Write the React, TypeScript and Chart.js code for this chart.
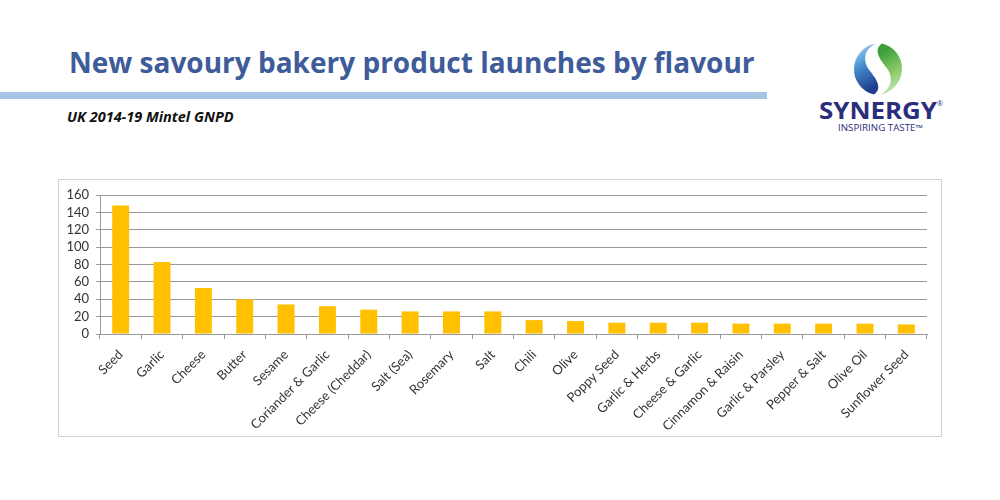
import React, { useEffect, useRef } from "react";
import { Chart, registerables } from "chart.js";

Chart.register(...registerables);

const categories = [
  "Seed", "Garlic", "Cheese", "Butter", "Sesame", "Coriander & Garlic",
  "Cheese (Cheddar)", "Salt (Sea)", "Rosemary", "Salt", "Chili", "Olive",
  "Poppy Seed", "Garlic & Herbs", "Cheese & Garlic", "Cinnamon & Raisin",
  "Garlic & Parsley", "Pepper & Salt", "Olive Oil", "Sunflower Seed",
];
const launches = [148, 83, 53, 40, 34, 32, 28, 26, 26, 26, 16, 15, 13, 13, 13, 12, 12, 12, 12, 11];
const yMin = 0;
const yMax = 160;
const yStep = 20;

const TITLE = "New savoury bakery product launches by flavour";
const SUBTITLE = "UK 2014-19 Mintel GNPD";

function BarChart() {
  const ref = useRef<HTMLCanvasElement | null>(null);
  useEffect(() => {
    if (!ref.current) return;
    const chart = new Chart(ref.current, {
      type: "bar",
      data: {
        labels: categories,
        datasets: [
          {
            data: launches,
            backgroundColor: "#FFC000",
            borderWidth: 0,
            categoryPercentage: 1,
            barPercentage: 0.41,
          },
        ],
      },
      options: {
        responsive: false,
        animation: false,
        maintainAspectRatio: false,
        layout: { padding: { top: 15, right: 14, left: 0, bottom: 0 } },
        plugins: { legend: { display: false }, tooltip: { enabled: false } },
        scales: {
          x: {
            grid: {
              display: true,
              drawOnChartArea: false,
              drawTicks: true,
              tickLength: 5,
              color: "#9a9a9a",
              offset: true,
            },
            border: { color: "#9a9a9a", width: 1 },
            ticks: {
              maxRotation: 45,
              minRotation: 45,
              autoSkip: false,
              padding: 8,
              color: "#333333",
              font: { family: "Lato", size: 13 },
            },
            afterFit: (s: any) => {
              s.height = 102;
            },
          },
          y: {
            min: yMin,
            max: yMax,
            ticks: {
              stepSize: yStep,
              autoSkip: false,
              padding: 7,
              color: "#333333",
              font: { family: "Lato", size: 13 },
            },
            grid: { color: "#9a9a9a", tickLength: 4, lineWidth: 1 },
            border: { color: "#9a9a9a", width: 1 },
            afterFit: (s: any) => {
              s.width = 41;
            },
          },
        },
      },
    });
    return () => chart.destroy();
  }, []);
  return <canvas ref={ref} width={882} height={256} style={{ width: 882, height: 256, display: "block" }} />;
}

function Logo() {
  const blue = "M 24 0.5 C 12 6, 10 18, 18 28 C 26 38, 30 46, 22 51.5 A 26 26 0 0 1 24 0.5 Z";
  return (
    <svg width={130} height={100} viewBox="0 0 130 100" style={{ position: "absolute", left: 814, top: 40 }}>
      <defs>
        <linearGradient id="gb" x1="0" y1="0" x2="0.3" y2="1">
          <stop offset="0" stopColor="#c4e2f5" />
          <stop offset="0.45" stopColor="#4a95d2" />
          <stop offset="1" stopColor="#1f3f8e" />
        </linearGradient>
        <linearGradient id="gg" x1="0" y1="0" x2="0.3" y2="1">
          <stop offset="0" stopColor="#d9eecb" />
          <stop offset="0.5" stopColor="#8cca6a" />
          <stop offset="1" stopColor="#3d9f3a" />
        </linearGradient>
      </defs>
      <g transform="translate(38 3)">
        <path d={blue} fill="url(#gb)" />
        <path d={blue} fill="url(#gg)" transform="rotate(180 26 26)" />
      </g>
      <text
        x={5}
        y={79}
        textLength={118}
        lengthAdjust="spacingAndGlyphs"
        style={{ fontFamily: "'Open Sans'", fontWeight: 700, fontSize: 24, fill: "#2b2e7c" }}
      >
        SYNERGY
      </text>
      <text x={123} y={66} style={{ fontFamily: "'Open Sans'", fontSize: 7, fill: "#2b2e7c" }}>®</text>
      <text
        x={24}
        y={91}
        textLength={85}
        lengthAdjust="spacingAndGlyphs"
        style={{ fontFamily: "'Open Sans'", fontSize: 8.5, fill: "#2b2e7c" }}
      >
        INSPIRING TASTE™
      </text>
    </svg>
  );
}

export default function App() {
  return (
    <div
      style={{
        position: "absolute",
        left: 0,
        top: 0,
        width: 1000,
        height: 500,
        background: "#ffffff",
        overflow: "hidden",
      }}
    >
      <div
        style={{
          position: "absolute",
          left: 69,
          top: 42,
          fontFamily: "'Open Sans'",
          fontWeight: 700,
          fontSize: 28,
          lineHeight: "40px",
          color: "#3e5b9a",
          whiteSpace: "nowrap",
        }}
      >
        {TITLE}
      </div>
      <div style={{ position: "absolute", left: 0, top: 92, width: 767, height: 7, background: "#a6c4e3" }} />
      <div
        style={{
          position: "absolute",
          left: 67,
          top: 107,
          fontFamily: "'Open Sans'",
          fontWeight: 700,
          fontStyle: "italic",
          fontSize: 14.5,
          lineHeight: "20px",
          color: "#111111",
          whiteSpace: "nowrap",
        }}
      >
        {SUBTITLE}
      </div>
      <Logo />
      <div
        style={{
          position: "absolute",
          left: 58,
          top: 179,
          width: 882,
          height: 256,
          border: "1px solid #d0d0d0",
        }}
      >
        <BarChart />
      </div>
    </div>
  );
}
